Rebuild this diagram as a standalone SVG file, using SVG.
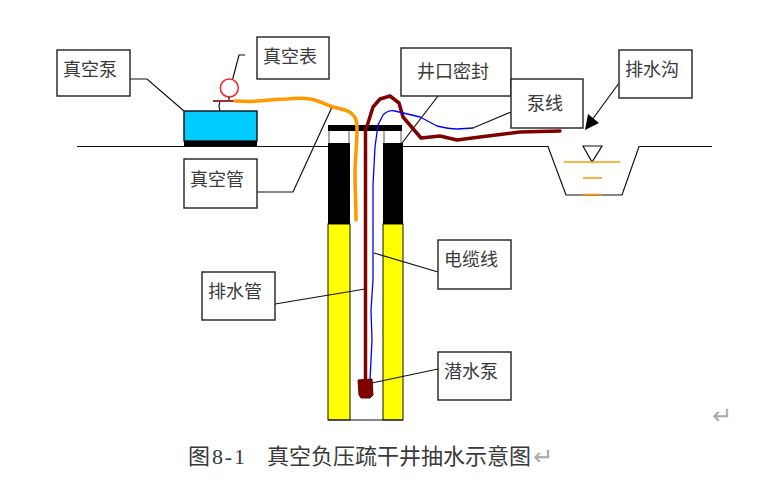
<svg xmlns="http://www.w3.org/2000/svg" width="760" height="484" viewBox="0 0 760 484">
<style>
.box{fill:#fff;stroke:#222;stroke-width:1.4}
.lbl{font-family:"Liberation Serif","Noto Sans CJK SC",serif;font-size:18px;fill:#3a3a3a}
.cap{font-family:"Liberation Serif","Noto Sans CJK SC",serif;font-size:22px;fill:#3a3a3a}
.ret{font-family:"DejaVu Sans",sans-serif;font-size:24px;fill:#aaa}
.thin{fill:none;stroke:#111;stroke-width:1.2}
.ln{fill:none;stroke-linejoin:round;stroke-linecap:round}
.org{stroke:#f90}
</style>
<rect width="760" height="484" fill="#fff"/>
<g id="ground">
<path class="thin" d="M77 146.5H328M403 146.5H548L566 195H622L639 146.5H712"/>
</g>
<g id="well">
<rect x="328" y="224" width="22" height="196" fill="#ff0" stroke="#111" stroke-width="1"/>
<rect x="383" y="224" width="20" height="196" fill="#ff0" stroke="#111" stroke-width="1"/>
<rect x="328" y="143" width="22" height="81" fill="#000"/>
<rect x="383" y="143" width="20" height="81" fill="#000"/>
<rect x="328" y="125" width="74" height="6" fill="#000"/>
<path d="M329 131V143M401 131V143M349 131V143M384 131V143" fill="none" stroke="#555" stroke-width="1"/>
<path class="thin" d="M328 420H403"/>
</g>
<g id="vacuum-pump">
<rect x="184" y="111" width="73" height="30" fill="#0cf" stroke="#111" stroke-width="1.4"/>
<rect x="184" y="141" width="73" height="5" fill="#000"/>
</g>
<g id="gauge">
<circle cx="229.300" cy="88" r="9" fill="#fff" stroke="#f22" stroke-width="1.500"/>
<path class="thin" d="M229 97V101M220 101L219 106L220 111"/>
<path d="M213 101H235" stroke="#933" stroke-width="2" fill="none"/>
</g>
<g id="connectors">
<path class="thin" d="M130 79H147L184 111"/>
<path class="thin" d="M232.700 79L239 55H245"/>
<path class="thin" d="M257 192H293L332 107"/>
<path class="thin" d="M438 96L402 143"/>
<path class="thin" d="M473 128L511 112"/>
<path class="thin" d="M275 304L365 289"/>
<path class="thin" d="M374 253L438 272"/>
<path class="thin" d="M367 384L438 369"/>
<path class="thin" d="M619 83L592 120"/>
<path d="M588 114L599 123L585 130Z" fill="#000"/>
<path class="ln org" stroke-width="3.500" d="M235 101C245 101 250 102 257 101C270 100 277 99 287 99C297 98 303 98 310 99C318 100 324 104 330 106C338 109 346 109 351 113C356 117 357 121 357 128C357 145 355 160 355 172C355 190 356 205 356 220"/>
<path class="ln" stroke="#800000" stroke-width="3.500" d="M365.500 380V131L368 123L373 107L380 99L390 96L399 103L403 117L421 138L440 136L457 140L480 137L520 132L560 131"/>
<path class="ln" stroke="#00f" stroke-width="1.300" d="M370 380L372 340L371 310L373 280L373 240L373 220L373 185L375 147L378 125L383 115C387 111 391 110 395 111L420 117L437 126C445 128 450 129 457 129L473 128"/>
<path d="M358 380L372 379L373 395L370 398H361L359 395Z" fill="#800000" stroke="#600" stroke-width="1"/>
</g>
<g id="ditch-water">
<path d="M583 146H602L592 162Z" fill="#fff" stroke="#111" stroke-width="1.200"/>
<path class="org" stroke-width="1.300" d="M564 162H620M583 178H602M583 194.500H602"/>
</g>
<g id="label-zhenkongbeng"><rect class="box" x="57" y="50" width="73" height="46"/><text class="lbl" x="63" y="76">真空泵</text></g>
<g id="label-zhenkongbiao"><rect class="box" x="257" y="37" width="72" height="42"/><text class="lbl" x="263" y="63">真空表</text></g>
<g id="label-zhenkongguan"><rect class="box" x="184" y="159" width="73" height="49"/><text class="lbl" x="190" y="186">真空管</text></g>
<g id="label-jingkoumifeng"><rect class="box" x="401" y="48" width="110" height="48"/><text class="lbl" x="417" y="78">井口密封</text></g>
<g id="label-bengxian"><rect class="box" x="511" y="79" width="72" height="49"/><text class="lbl" x="527" y="110">泵线</text></g>
<g id="label-paishuigou"><rect class="box" x="619" y="50" width="73" height="48"/><text class="lbl" x="625" y="76">排水沟</text></g>
<g id="label-paishuiguan"><rect class="box" x="202" y="272" width="73" height="48"/><text class="lbl" x="208" y="298">排水管</text></g>
<g id="label-dianlanxian"><rect class="box" x="438" y="240" width="73" height="49"/><text class="lbl" x="444" y="266">电缆线</text></g>
<g id="label-qianshuibeng"><rect class="box" x="438" y="352" width="73" height="48"/><text class="lbl" x="444" y="378">潜水泵</text></g>
<text class="cap" x="188" y="464" textLength="57" lengthAdjust="spacing">图8-1</text>
<text class="cap" x="267" y="464">真空负压疏干井抽水示意图</text>
<text class="ret" x="533" y="465">↵</text>
<text class="ret" x="712" y="424">↵</text>
</svg>
